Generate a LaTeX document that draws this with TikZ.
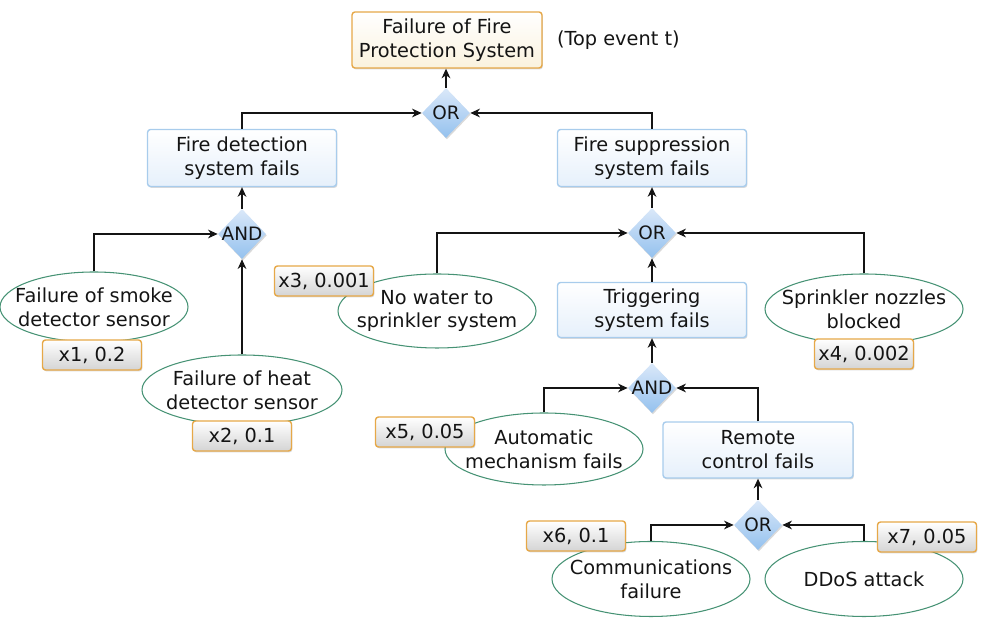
\documentclass[tikz,border=0pt]{standalone}
\usepackage{fontspec}
\setmainfont{DejaVu Sans}
\usepackage{xcolor}
\usepackage{tikz}
\usetikzlibrary{arrows.meta,positioning,shapes.geometric,shadows}
\definecolor{frameorange}{RGB}{230,168,72}
\definecolor{creamfill}{RGB}{250,242,222}
\definecolor{boxblue}{RGB}{168,204,236}
\definecolor{paleblue}{RGB}{230,240,251}
\definecolor{gatelight}{RGB}{218,232,249}
\definecolor{gatedark}{RGB}{148,193,238}
\definecolor{leafgreen}{RGB}{70,146,116}
\definecolor{probgray}{RGB}{212,212,212}
\definecolor{inkgray}{RGB}{20,20,20}

\begin{document}
\begin{tikzpicture}[
  every node/.style={font=\fontsize{11}{13.6}\selectfont, text=inkgray, align=center},
  softshadow/.style={drop shadow={fill=black, opacity=0.15, shadow xshift=0.5pt, shadow yshift=-0.8pt}},
  topbox/.style={rectangle, rounded corners=0.06cm, draw=frameorange, line width=0.8pt, top color=white, bottom color=creamfill, minimum width=3.8cm, minimum height=1.12cm, softshadow},
  midbox/.style={rectangle, rounded corners=0.06cm, draw=boxblue, line width=0.8pt, top color=white, bottom color=paleblue, minimum width=3.78cm, minimum height=1.14cm, softshadow},
  gate/.style={diamond, inner sep=-1.5pt, minimum width=0.96cm, minimum height=1cm, top color=gatelight, bottom color=gatedark, font=\fontsize{10.5}{12}\selectfont, softshadow},
  leaf/.style={ellipse, draw=leafgreen, line width=0.6pt, fill=white, inner sep=0pt, minimum width=3.96cm, minimum height=1.44cm, label={center:#1}},
  prob/.style={rectangle, rounded corners=0.06cm, draw=frameorange, line width=0.8pt, top color=white, bottom color=probgray, minimum width=1.98cm, minimum height=0.6cm, inner sep=0pt, softshadow},
  arr/.style={-{Stealth[length=5.5pt,width=5pt]}, line width=0.6pt, draw=inkgray}
]
\useasboundingbox (0,0) rectangle (19.62,12.42);

\node[topbox] (top) at (8.94,11.62) {Failure of Fire\\Protection System};
\node[right=0.28cm of top, inner sep=0pt] (tevent) {(Top event t)};
\node[gate] (or1) at (8.92,10.16) {OR};

\node[midbox] (detect) at (4.84,9.26) {Fire detection\\system fails};
\node[midbox] (suppress) at (13.04,9.26) {Fire suppression\\system fails};

\node[gate] (and1) at (4.84,7.74) {AND};
\node[leaf={Failure of smoke\\detector sensor}, minimum width=3.76cm, minimum height=1.4cm] (smoke) at (1.88,6.28) {};
\node[leaf={Failure of heat\\detector sensor}, minimum width=4cm, minimum height=1.4cm] (heat) at (4.84,4.62) {};
\node[prob] (x1) at (1.84,5.32) {x1, 0.2};
\node[prob] (x2) at (4.84,3.7) {x2, 0.1};

\node[gate] (or2) at (13.04,7.76) {OR};
\node[leaf={No water to\\sprinkler system}, minimum height=1.48cm] (nowater) at (8.74,6.2) {};
\node[midbox, minimum height=1.1cm] (trigger) at (13.04,6.22) {Triggering\\system fails};
\node[leaf={Sprinkler nozzles\\blocked}, minimum height=1.4cm] (nozzles) at (17.28,6.24) {};
\node[prob] (x3) at (6.48,6.8) {x3, 0.001};
\node[prob] (x4) at (17.28,5.34) {x4, 0.002};

\node[gate] (and2) at (13.04,4.66) {AND};
\node[leaf={Automatic\\mechanism fails}] (automatic) at (10.88,3.44) {};
\node[midbox, minimum width=3.8cm, minimum height=1.12cm] (remote) at (15.16,3.42) {Remote\\control fails};
\node[prob] (x5) at (8.5,3.78) {x5, 0.05};

\node[gate] (or3) at (15.16,1.92) {OR};
\node[leaf={Communications\\failure}, minimum height=1.5cm] (comm) at (13.02,0.84) {};
\node[leaf={DDoS attack}, minimum height=1.5cm] (ddos) at (17.28,0.84) {};
\node[prob] (x6) at (11.52,1.7) {x6, 0.1};
\node[prob] (x7) at (18.54,1.68) {x7, 0.05};

\draw[arr] (or1.north) -- (or1.north |- top.south);
\draw[arr] (detect.north) |- (or1.west);
\draw[arr] (suppress.north) |- (or1.east);
\draw[arr] (and1.north) -- (detect.south);
\draw[arr] (smoke.north) |- (and1.west);
\draw[arr] (heat.north) -- (and1.south);
\draw[arr] (or2.north) -- (suppress.south);
\draw[arr] (nowater.north) |- (or2.west);
\draw[arr] (nozzles.north) |- (or2.east);
\draw[arr] (trigger.north) -- (or2.south);
\draw[arr] (and2.north) -- (trigger.south);
\draw[arr] (automatic.north) |- (and2.west);
\draw[arr] (remote.north) |- (and2.east);
\draw[arr] (or3.north) -- (remote.south);
\draw[arr] (comm.north) |- (or3.west);
\draw[arr] (ddos.north) |- (or3.east);
\end{tikzpicture}
\end{document}
